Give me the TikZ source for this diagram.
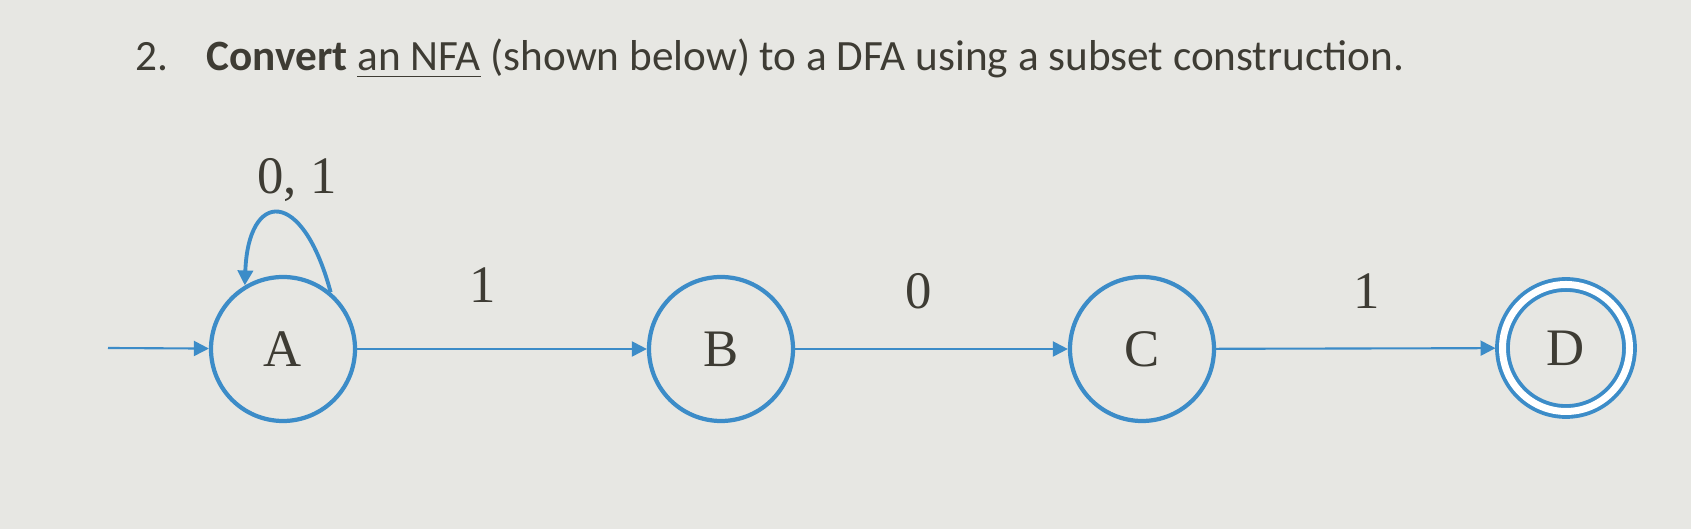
\documentclass[tikz,border=0pt]{standalone}
\usepackage{fontspec}
\setmainfont{Liberation Serif}
\newfontfamily\titlefont{Carlito}
\usetikzlibrary{arrows.meta}
\definecolor{paper}{RGB}{231,231,227}
\definecolor{stateblue}{RGB}{60,140,200}
\definecolor{ink}{RGB}{62,60,52}

\begin{document}
\begin{tikzpicture}[
    state/.style={circle, draw=stateblue, line width=1.2pt, minimum size=1.44cm, inner sep=0pt, text=ink, font=\fontsize{15}{18}\selectfont},
    accept/.style={state, double=white, double distance=0.07cm, line width=1.1pt, minimum size=1.27cm, outer sep=0.07cm},
    trans/.style={draw=stateblue, line width=0.6pt, -{Triangle[length=0.15cm,width=0.15cm]}},
    loopline/.style={trans, line width=1.1pt},
    lab/.style={text=ink, font=\fontsize{15}{18}\selectfont},
    task/.style={anchor=base west, inner sep=0pt, text=ink, font=\titlefont\fontsize{12.3}{14}\selectfont}
]

\useasboundingbox[fill=paper] (0,0) rectangle (16.91,5.29);

% The question
\node[task] (num) at (1.35,4.58) {2.};
\node[task] (question) at (2.06,4.58) {\textbf{Convert} \underline{an NFA} (shown below) to a DFA using a subset construction.};

% Adding the states
\node[state] (A) at (2.83,1.80) {A};
\node[state] (B) at (7.21,1.80) {B};
\node[state] (C) at (11.42,1.80) {C};
\node[accept] (D) at (15.66,1.81) {D};
\coordinate (start) at (1.08,1.81);

% Transitions
\draw[trans] (start) -- (A);
\draw[trans] (A) -- (B);
\draw[trans] (B) -- (C);
\draw[trans] (C) -- (D);
\draw[loopline] (A.50) .. controls +(105:1.1) and +(88:0.95) .. (A.121);

\node[lab] (l01) at (2.97,3.49) {0, 1};
\node[lab] (lAB) at (4.83,2.44) {1};
\node[lab] (lBC) at (9.19,2.38) {0};
\node[lab] (lCD) at (13.67,2.38) {1};

\end{tikzpicture}
\end{document}
